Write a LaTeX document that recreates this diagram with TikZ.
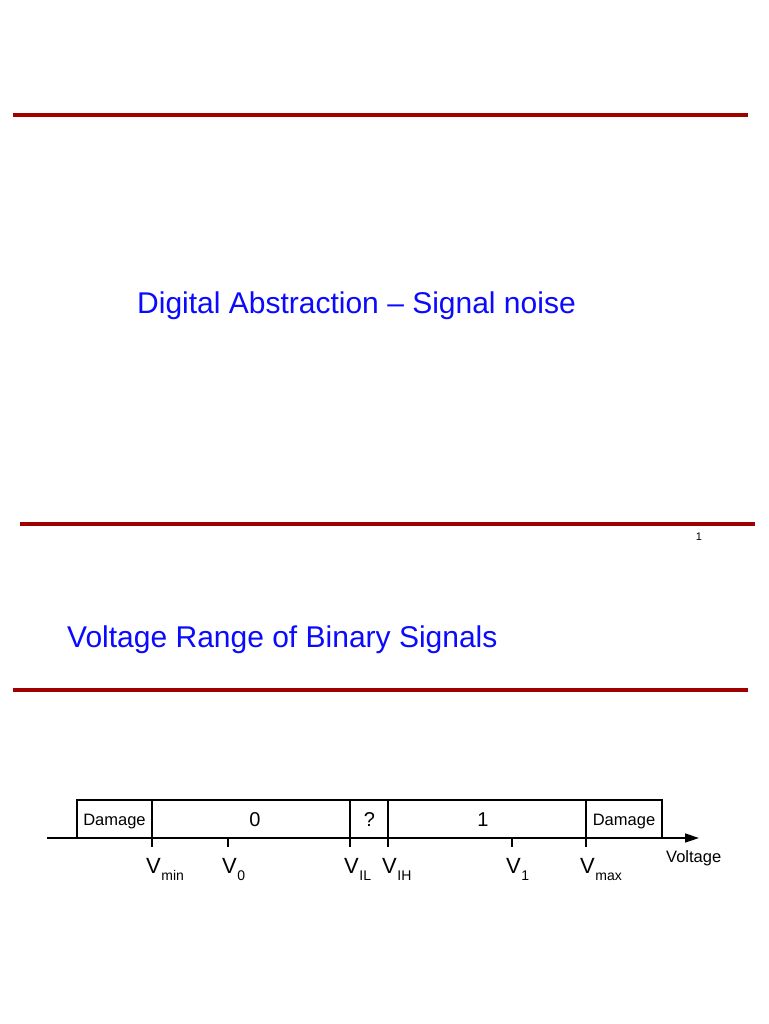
\documentclass[tikz,border=0pt]{standalone}
\usepackage{fontspec}
\setmainfont{Liberation Sans}
\usetikzlibrary{arrows.meta}
\definecolor{rulered}{RGB}{160,0,0}
\definecolor{titleblue}{RGB}{10,10,255}
\begin{document}
\begin{tikzpicture}[x=1pt,y=-1pt,
  rulebar/.style={draw=rulered,line width=4pt},
  titletext/.style={anchor=base west,inner sep=0pt,text=titleblue,font=\fontsize{30}{34}\selectfont},
  boxtext/.style={inner sep=0pt,font=\fontsize{16.5}{20}\selectfont},
  digittext/.style={inner sep=0pt,font=\fontsize{20}{22}\selectfont},
  zonebox/.style={draw=black,line width=1.3pt},
  ticklbl/.style={anchor=base west,inner sep=0pt},
  tickmark/.style={draw=black,line width=1.3pt}]
\useasboundingbox (0,0) rectangle (768,1024);
\fill[white] (0,0) rectangle (768,1024);
% rules
\coordinate (r1a) at (13,115); \coordinate (r1b) at (748,115);
\coordinate (r2a) at (20,524); \coordinate (r2b) at (755,524);
\coordinate (r3a) at (13,690); \coordinate (r3b) at (748,690);
\draw[rulebar] (r1a) -- (r1b);
\draw[rulebar] (r2a) -- (r2b);
\draw[rulebar] (r3a) -- (r3b);
% titles
\node[titletext] (t1) at (137,313) {Digital Abstraction – Signal noise};
\node[titletext] (t2) at (67,647) {Voltage Range of Binary Signals};
\node[anchor=base,inner sep=0pt,font=\fontsize{11}{12}\selectfont] (pg) at (699,540) {1};
% boxes
\draw[zonebox] (77,800) rectangle (152,838);
\draw[zonebox] (152,800) rectangle (350,838);
\draw[zonebox] (350,800) rectangle (388,838);
\draw[zonebox] (388,800) rectangle (586,838);
\draw[zonebox] (586,800) rectangle (662,838);
\node[boxtext,anchor=base] (d1) at (114.5,825) {Damage};
\node[digittext,anchor=base] (z0) at (255,826) {0};
\node[digittext,anchor=base] (zq) at (369.5,826) {?};
\node[digittext,anchor=base] (z1) at (483,826) {1};
\node[boxtext,anchor=base] (d2) at (624,825) {Damage};
% axis
\coordinate (axs) at (47,838); \coordinate (axe) at (699,838);
\draw[line width=1.6pt,-{Triangle[length=14pt,width=9pt]}] (axs) -- (axe);
\node[anchor=base west,inner sep=0pt,font=\fontsize{16.5}{18}\selectfont] (volt) at (666,862) {Voltage};
% ticks
\foreach \n/\xx in {vmin/152,v0/228,vil/350,vih/388,v1/512,vmax/586}{
  \coordinate (\n t) at (\xx,838);
  \coordinate (\n b) at (\xx,847);
  \draw[tickmark] (\n t) -- (\n b);
}
\newcommand{\vlabel}[1]{{\fontsize{22}{24}\selectfont V}\kern0.5pt\raisebox{-7pt}{\fontsize{14}{16}\selectfont #1}}
\node[ticklbl] (lvmin) at (146,873) {\vlabel{min}};
\node[ticklbl] (lv0) at (222,873) {\vlabel{0}};
\node[ticklbl] (lvil) at (344,873) {\vlabel{IL}};
\node[ticklbl] (lvih) at (382,873) {\vlabel{IH}};
\node[ticklbl] (lv1) at (506,873) {\vlabel{1}};
\node[ticklbl] (lvmax) at (580,873) {\vlabel{max}};
\end{tikzpicture}
\end{document}
